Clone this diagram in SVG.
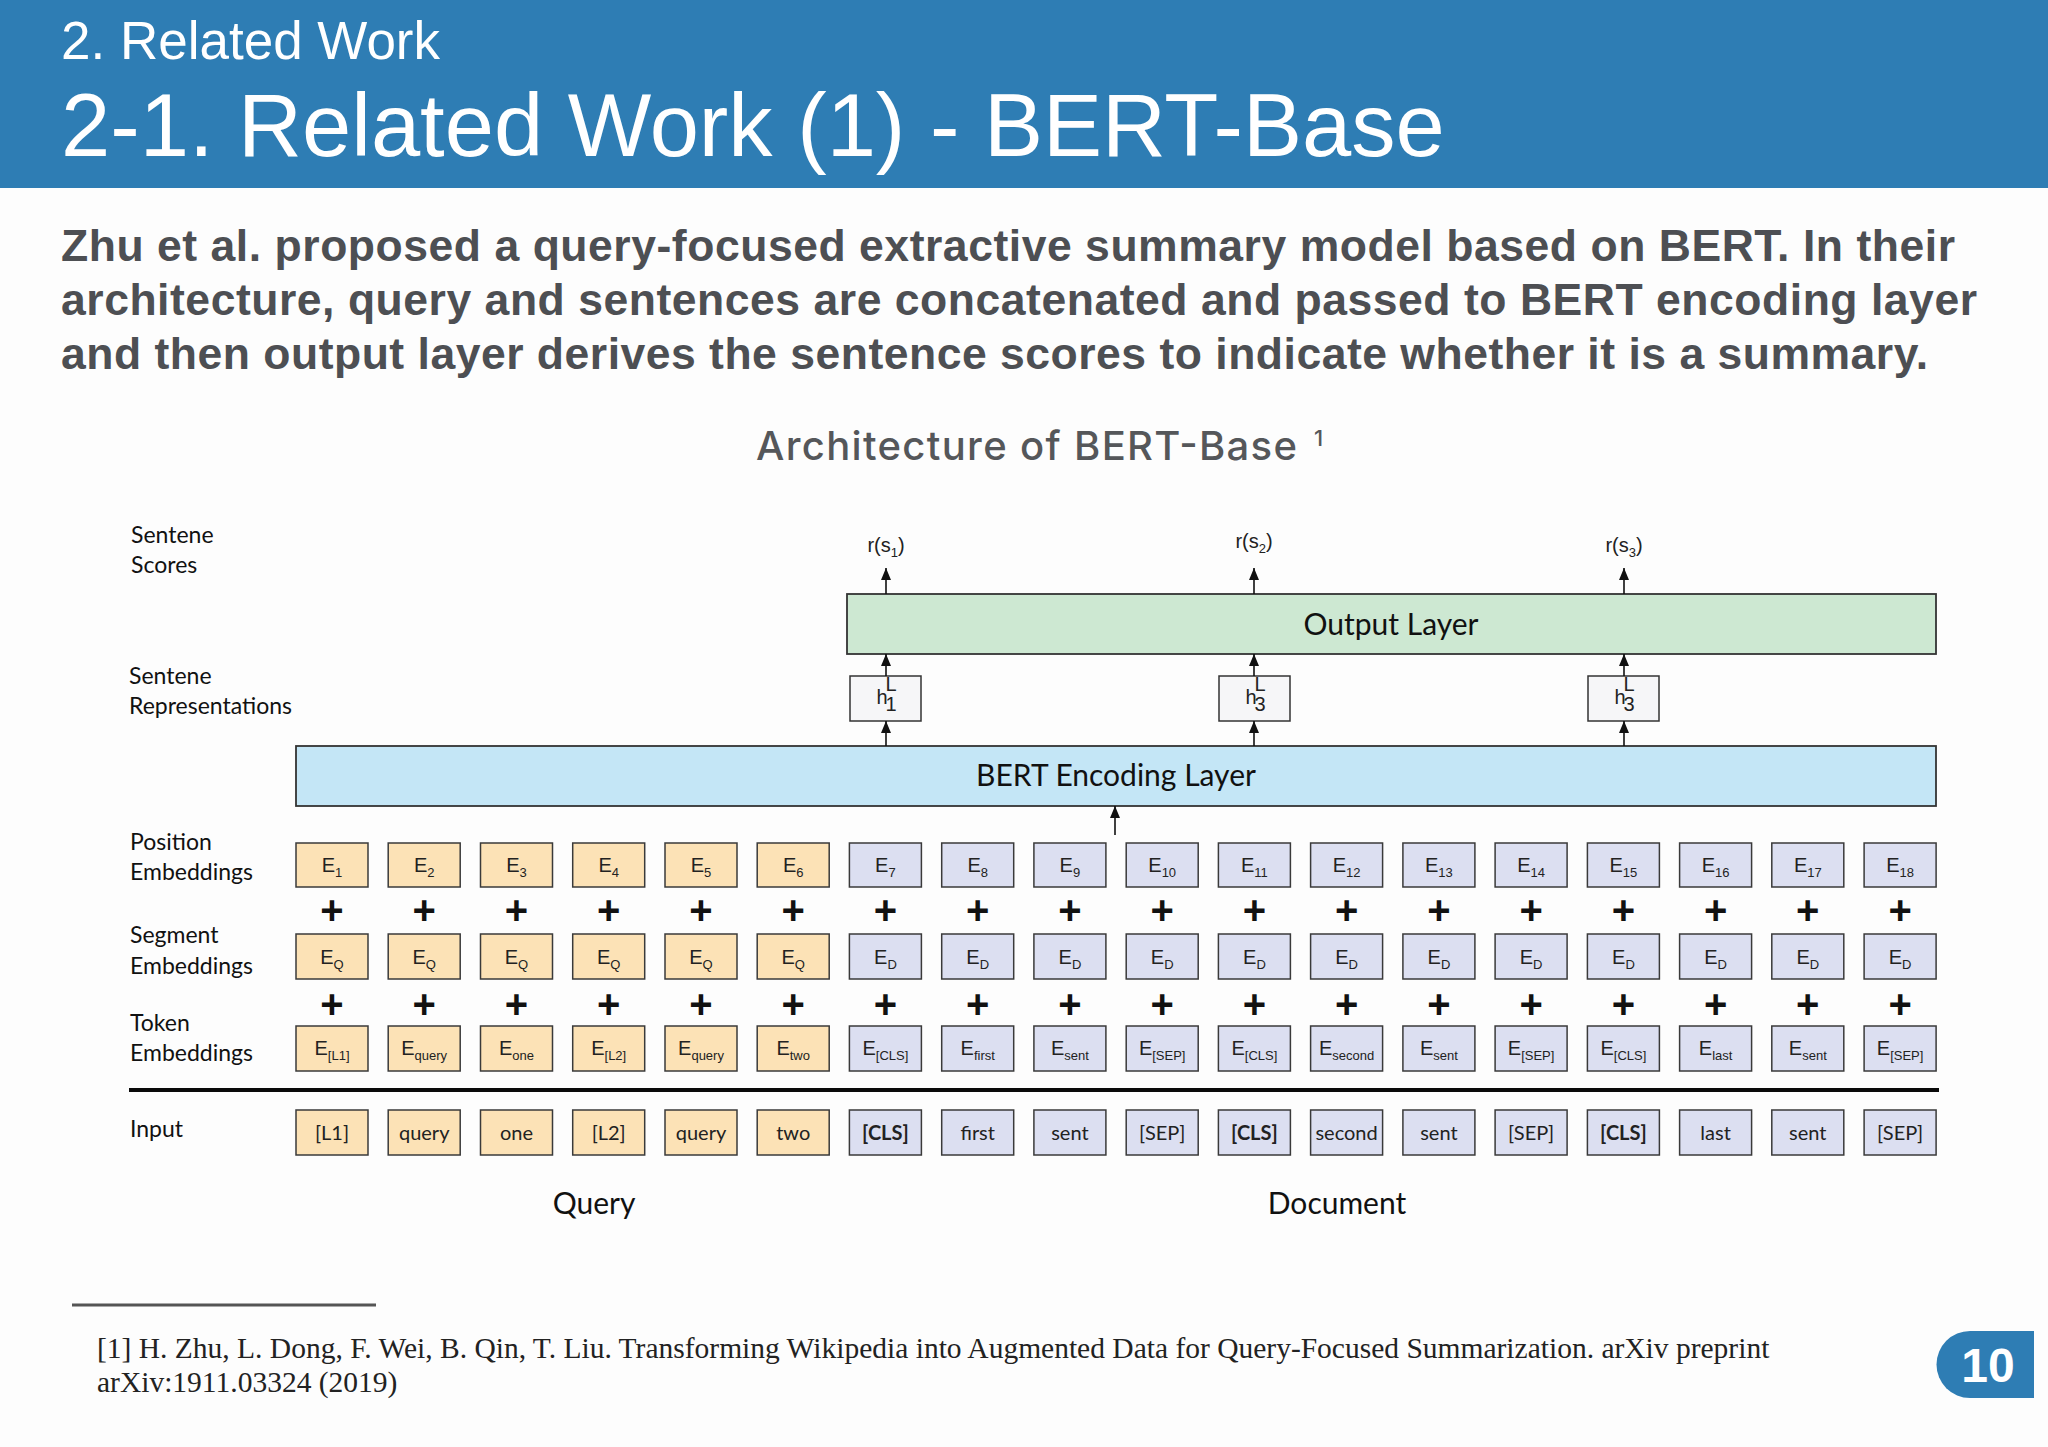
<svg xmlns="http://www.w3.org/2000/svg" width="2048" height="1447" viewBox="0 0 2048 1447">
<style>
.q{fill:#fce2b6;stroke:#3a3a3a;stroke-width:1.5}
.d{fill:#dcdff1;stroke:#3a3a3a;stroke-width:1.5}
.e{font-family:"Liberation Sans",Arial,sans-serif;font-size:20px;fill:#222;text-anchor:middle}
.sub{font-size:13px}
.lab{font-family:Lato,"Open Sans",sans-serif;font-size:23px;fill:#111}
.in{font-family:Lato,"Open Sans",sans-serif;font-size:20px;fill:#222;text-anchor:middle}
.b{font-weight:bold}
.plus{font-family:"Liberation Sans",Arial,sans-serif;font-weight:bold;font-size:40px;fill:#111;text-anchor:middle}
.big{font-family:Lato,"Open Sans",sans-serif;font-size:30px;fill:#111;text-anchor:middle}
.hb{fill:#f6f6f8;stroke:#333;stroke-width:1.5}
.conn{stroke:#111;stroke-width:1.6;fill:none;marker-end:url(#ah)}
.para{font-family:"Liberation Sans",Arial,sans-serif;font-weight:bold;font-size:44.5px;fill:#4d4f53}
</style>
<defs>
<marker id="ah" viewBox="0 0 12 10" refX="12" refY="5" markerWidth="12" markerHeight="10" markerUnits="userSpaceOnUse" orient="auto"><path d="M0,0 L12,5 L0,10 z" fill="#111"/></marker>
</defs>
<rect width="2048" height="1447" fill="#fdfdfd"/>
<g id="header">
<rect x="0" y="0" width="2048" height="188" fill="#2e7db4"/>
<text x="61" y="59" font-family="Liberation Sans,Arial,sans-serif" font-size="53" fill="#fff">2. Related Work</text>
<text x="61" y="156" font-family="Liberation Sans,Arial,sans-serif" font-size="88.5" fill="#fff">2-1. Related Work (1) - BERT-Base</text>
</g>
<g id="paragraph">
<text class="para" x="61" y="261" textLength="1894">Zhu et al. proposed a query-focused extractive summary model based on BERT. In their</text>
<text class="para" x="61" y="315" textLength="1916">architecture, query and sentences are concatenated and passed to BERT encoding layer</text>
<text class="para" x="61" y="369" textLength="1867">and then output layer derives the sentence scores to indicate whether it is a summary.</text>
</g>
<g id="caption">
<text x="756" y="460" font-family="Inter,'Open Sans',sans-serif" font-size="40" font-weight="500" fill="#55575a" textLength="541">Architecture of BERT-Base</text>
<text x="1314" y="446" font-family="Inter,'Open Sans',sans-serif" font-size="22" font-weight="500" fill="#55575a">1</text>
</g>
<g id="row-labels">
<text class="lab" x="131" y="543">Sentene</text>
<text class="lab" x="131" y="573">Scores</text>
<text class="lab" x="129" y="684">Sentene</text>
<text class="lab" x="129" y="714">Representations</text>
<text class="lab" x="130" y="850">Position</text>
<text class="lab" x="130" y="880">Embeddings</text>
<text class="lab" x="130" y="943">Segment</text>
<text class="lab" x="130" y="974">Embeddings</text>
<text class="lab" x="130" y="1031">Token</text>
<text class="lab" x="130" y="1061">Embeddings</text>
<text class="lab" x="130" y="1137">Input</text>
</g>
<g id="scores">
<text class="e" x="886" y="552">r(s<tspan class="sub" dy="5">1</tspan><tspan dy="-5">)</tspan></text>
<text class="e" x="1254" y="548">r(s<tspan class="sub" dy="5">2</tspan><tspan dy="-5">)</tspan></text>
<text class="e" x="1624" y="552">r(s<tspan class="sub" dy="5">3</tspan><tspan dy="-5">)</tspan></text>
</g>
<g id="output-layer">
<rect x="847" y="594" width="1089" height="60" fill="#cde8d2" stroke="#333" stroke-width="1.8"/>
<text class="big" x="1391" y="635">Output Layer</text>
</g>
<g id="h1"><rect class="hb" x="850" y="676" width="71" height="45"/><text class="e" x="882" y="704">h</text><text class="e" x="891" y="691" font-size="9">L</text><text class="e" x="891" y="711" font-size="13">1</text></g>
<g id="h2"><rect class="hb" x="1219" y="676" width="71" height="45"/><text class="e" x="1251" y="704">h</text><text class="e" x="1260" y="691" font-size="9">L</text><text class="e" x="1260" y="711" font-size="13">3</text></g>
<g id="h3"><rect class="hb" x="1588" y="676" width="71" height="45"/><text class="e" x="1620" y="704">h</text><text class="e" x="1629" y="691" font-size="9">L</text><text class="e" x="1629" y="711" font-size="13">3</text></g>
<g id="bert-layer">
<rect x="296" y="746" width="1640" height="60" fill="#c4e6f6" stroke="#333" stroke-width="1.8"/>
<text class="big" x="1116" y="786">BERT Encoding Layer</text>
</g>
<g id="connectors">
<line class="conn" x1="886" y1="594" x2="886" y2="568"/>
<line class="conn" x1="1254" y1="594" x2="1254" y2="568"/>
<line class="conn" x1="1624" y1="594" x2="1624" y2="568"/>
<line class="conn" x1="886" y1="676" x2="886" y2="654"/>
<line class="conn" x1="1254" y1="676" x2="1254" y2="654"/>
<line class="conn" x1="1624" y1="676" x2="1624" y2="654"/>
<line class="conn" x1="886" y1="746" x2="886" y2="721"/>
<line class="conn" x1="1254" y1="746" x2="1254" y2="721"/>
<line class="conn" x1="1624" y1="746" x2="1624" y2="721"/>
<line class="conn" x1="1115" y1="835" x2="1115" y2="806"/>
</g>
<g id="position-embeddings">
<g id="pos-1"><rect class="q" x="296.0" y="843" width="72" height="44"/><text class="e" x="332.0" y="872">E<tspan class="sub" dy="5">1</tspan></text></g>
<g id="pos-2"><rect class="q" x="388.2" y="843" width="72" height="44"/><text class="e" x="424.2" y="872">E<tspan class="sub" dy="5">2</tspan></text></g>
<g id="pos-3"><rect class="q" x="480.5" y="843" width="72" height="44"/><text class="e" x="516.5" y="872">E<tspan class="sub" dy="5">3</tspan></text></g>
<g id="pos-4"><rect class="q" x="572.7" y="843" width="72" height="44"/><text class="e" x="608.7" y="872">E<tspan class="sub" dy="5">4</tspan></text></g>
<g id="pos-5"><rect class="q" x="665.0" y="843" width="72" height="44"/><text class="e" x="701.0" y="872">E<tspan class="sub" dy="5">5</tspan></text></g>
<g id="pos-6"><rect class="q" x="757.2" y="843" width="72" height="44"/><text class="e" x="793.2" y="872">E<tspan class="sub" dy="5">6</tspan></text></g>
<g id="pos-7"><rect class="d" x="849.4" y="843" width="72" height="44"/><text class="e" x="885.4" y="872">E<tspan class="sub" dy="5">7</tspan></text></g>
<g id="pos-8"><rect class="d" x="941.7" y="843" width="72" height="44"/><text class="e" x="977.7" y="872">E<tspan class="sub" dy="5">8</tspan></text></g>
<g id="pos-9"><rect class="d" x="1033.9" y="843" width="72" height="44"/><text class="e" x="1069.9" y="872">E<tspan class="sub" dy="5">9</tspan></text></g>
<g id="pos-10"><rect class="d" x="1126.2" y="843" width="72" height="44"/><text class="e" x="1162.2" y="872">E<tspan class="sub" dy="5">10</tspan></text></g>
<g id="pos-11"><rect class="d" x="1218.4" y="843" width="72" height="44"/><text class="e" x="1254.4" y="872">E<tspan class="sub" dy="5">11</tspan></text></g>
<g id="pos-12"><rect class="d" x="1310.6" y="843" width="72" height="44"/><text class="e" x="1346.6" y="872">E<tspan class="sub" dy="5">12</tspan></text></g>
<g id="pos-13"><rect class="d" x="1402.9" y="843" width="72" height="44"/><text class="e" x="1438.9" y="872">E<tspan class="sub" dy="5">13</tspan></text></g>
<g id="pos-14"><rect class="d" x="1495.1" y="843" width="72" height="44"/><text class="e" x="1531.1" y="872">E<tspan class="sub" dy="5">14</tspan></text></g>
<g id="pos-15"><rect class="d" x="1587.4" y="843" width="72" height="44"/><text class="e" x="1623.4" y="872">E<tspan class="sub" dy="5">15</tspan></text></g>
<g id="pos-16"><rect class="d" x="1679.6" y="843" width="72" height="44"/><text class="e" x="1715.6" y="872">E<tspan class="sub" dy="5">16</tspan></text></g>
<g id="pos-17"><rect class="d" x="1771.8" y="843" width="72" height="44"/><text class="e" x="1807.8" y="872">E<tspan class="sub" dy="5">17</tspan></text></g>
<g id="pos-18"><rect class="d" x="1864.1" y="843" width="72" height="44"/><text class="e" x="1900.1" y="872">E<tspan class="sub" dy="5">18</tspan></text></g>
</g>
<g id="segment-embeddings">
<g id="seg-1"><rect class="q" x="296.0" y="934" width="72" height="45"/><text class="e" x="332.0" y="964">E<tspan class="sub" dy="5">Q</tspan></text></g>
<g id="seg-2"><rect class="q" x="388.2" y="934" width="72" height="45"/><text class="e" x="424.2" y="964">E<tspan class="sub" dy="5">Q</tspan></text></g>
<g id="seg-3"><rect class="q" x="480.5" y="934" width="72" height="45"/><text class="e" x="516.5" y="964">E<tspan class="sub" dy="5">Q</tspan></text></g>
<g id="seg-4"><rect class="q" x="572.7" y="934" width="72" height="45"/><text class="e" x="608.7" y="964">E<tspan class="sub" dy="5">Q</tspan></text></g>
<g id="seg-5"><rect class="q" x="665.0" y="934" width="72" height="45"/><text class="e" x="701.0" y="964">E<tspan class="sub" dy="5">Q</tspan></text></g>
<g id="seg-6"><rect class="q" x="757.2" y="934" width="72" height="45"/><text class="e" x="793.2" y="964">E<tspan class="sub" dy="5">Q</tspan></text></g>
<g id="seg-7"><rect class="d" x="849.4" y="934" width="72" height="45"/><text class="e" x="885.4" y="964">E<tspan class="sub" dy="5">D</tspan></text></g>
<g id="seg-8"><rect class="d" x="941.7" y="934" width="72" height="45"/><text class="e" x="977.7" y="964">E<tspan class="sub" dy="5">D</tspan></text></g>
<g id="seg-9"><rect class="d" x="1033.9" y="934" width="72" height="45"/><text class="e" x="1069.9" y="964">E<tspan class="sub" dy="5">D</tspan></text></g>
<g id="seg-10"><rect class="d" x="1126.2" y="934" width="72" height="45"/><text class="e" x="1162.2" y="964">E<tspan class="sub" dy="5">D</tspan></text></g>
<g id="seg-11"><rect class="d" x="1218.4" y="934" width="72" height="45"/><text class="e" x="1254.4" y="964">E<tspan class="sub" dy="5">D</tspan></text></g>
<g id="seg-12"><rect class="d" x="1310.6" y="934" width="72" height="45"/><text class="e" x="1346.6" y="964">E<tspan class="sub" dy="5">D</tspan></text></g>
<g id="seg-13"><rect class="d" x="1402.9" y="934" width="72" height="45"/><text class="e" x="1438.9" y="964">E<tspan class="sub" dy="5">D</tspan></text></g>
<g id="seg-14"><rect class="d" x="1495.1" y="934" width="72" height="45"/><text class="e" x="1531.1" y="964">E<tspan class="sub" dy="5">D</tspan></text></g>
<g id="seg-15"><rect class="d" x="1587.4" y="934" width="72" height="45"/><text class="e" x="1623.4" y="964">E<tspan class="sub" dy="5">D</tspan></text></g>
<g id="seg-16"><rect class="d" x="1679.6" y="934" width="72" height="45"/><text class="e" x="1715.6" y="964">E<tspan class="sub" dy="5">D</tspan></text></g>
<g id="seg-17"><rect class="d" x="1771.8" y="934" width="72" height="45"/><text class="e" x="1807.8" y="964">E<tspan class="sub" dy="5">D</tspan></text></g>
<g id="seg-18"><rect class="d" x="1864.1" y="934" width="72" height="45"/><text class="e" x="1900.1" y="964">E<tspan class="sub" dy="5">D</tspan></text></g>
</g>
<g id="token-embeddings">
<g id="tok-1"><rect class="q" x="296.0" y="1026" width="72" height="45"/><text class="e" x="332.0" y="1055">E<tspan class="sub" dy="5">[L1]</tspan></text></g>
<g id="tok-2"><rect class="q" x="388.2" y="1026" width="72" height="45"/><text class="e" x="424.2" y="1055">E<tspan class="sub" dy="5">query</tspan></text></g>
<g id="tok-3"><rect class="q" x="480.5" y="1026" width="72" height="45"/><text class="e" x="516.5" y="1055">E<tspan class="sub" dy="5">one</tspan></text></g>
<g id="tok-4"><rect class="q" x="572.7" y="1026" width="72" height="45"/><text class="e" x="608.7" y="1055">E<tspan class="sub" dy="5">[L2]</tspan></text></g>
<g id="tok-5"><rect class="q" x="665.0" y="1026" width="72" height="45"/><text class="e" x="701.0" y="1055">E<tspan class="sub" dy="5">query</tspan></text></g>
<g id="tok-6"><rect class="q" x="757.2" y="1026" width="72" height="45"/><text class="e" x="793.2" y="1055">E<tspan class="sub" dy="5">two</tspan></text></g>
<g id="tok-7"><rect class="d" x="849.4" y="1026" width="72" height="45"/><text class="e" x="885.4" y="1055">E<tspan class="sub" dy="5">[CLS]</tspan></text></g>
<g id="tok-8"><rect class="d" x="941.7" y="1026" width="72" height="45"/><text class="e" x="977.7" y="1055">E<tspan class="sub" dy="5">first</tspan></text></g>
<g id="tok-9"><rect class="d" x="1033.9" y="1026" width="72" height="45"/><text class="e" x="1069.9" y="1055">E<tspan class="sub" dy="5">sent</tspan></text></g>
<g id="tok-10"><rect class="d" x="1126.2" y="1026" width="72" height="45"/><text class="e" x="1162.2" y="1055">E<tspan class="sub" dy="5">[SEP]</tspan></text></g>
<g id="tok-11"><rect class="d" x="1218.4" y="1026" width="72" height="45"/><text class="e" x="1254.4" y="1055">E<tspan class="sub" dy="5">[CLS]</tspan></text></g>
<g id="tok-12"><rect class="d" x="1310.6" y="1026" width="72" height="45"/><text class="e" x="1346.6" y="1055">E<tspan class="sub" dy="5">second</tspan></text></g>
<g id="tok-13"><rect class="d" x="1402.9" y="1026" width="72" height="45"/><text class="e" x="1438.9" y="1055">E<tspan class="sub" dy="5">sent</tspan></text></g>
<g id="tok-14"><rect class="d" x="1495.1" y="1026" width="72" height="45"/><text class="e" x="1531.1" y="1055">E<tspan class="sub" dy="5">[SEP]</tspan></text></g>
<g id="tok-15"><rect class="d" x="1587.4" y="1026" width="72" height="45"/><text class="e" x="1623.4" y="1055">E<tspan class="sub" dy="5">[CLS]</tspan></text></g>
<g id="tok-16"><rect class="d" x="1679.6" y="1026" width="72" height="45"/><text class="e" x="1715.6" y="1055">E<tspan class="sub" dy="5">last</tspan></text></g>
<g id="tok-17"><rect class="d" x="1771.8" y="1026" width="72" height="45"/><text class="e" x="1807.8" y="1055">E<tspan class="sub" dy="5">sent</tspan></text></g>
<g id="tok-18"><rect class="d" x="1864.1" y="1026" width="72" height="45"/><text class="e" x="1900.1" y="1055">E<tspan class="sub" dy="5">[SEP]</tspan></text></g>
</g>
<g id="plus-signs">
<text class="plus" x="332.0" y="924">+</text><text class="plus" x="424.2" y="924">+</text><text class="plus" x="516.5" y="924">+</text><text class="plus" x="608.7" y="924">+</text><text class="plus" x="701.0" y="924">+</text><text class="plus" x="793.2" y="924">+</text><text class="plus" x="885.4" y="924">+</text><text class="plus" x="977.7" y="924">+</text><text class="plus" x="1069.9" y="924">+</text><text class="plus" x="1162.2" y="924">+</text><text class="plus" x="1254.4" y="924">+</text><text class="plus" x="1346.6" y="924">+</text><text class="plus" x="1438.9" y="924">+</text><text class="plus" x="1531.1" y="924">+</text><text class="plus" x="1623.4" y="924">+</text><text class="plus" x="1715.6" y="924">+</text><text class="plus" x="1807.8" y="924">+</text><text class="plus" x="1900.1" y="924">+</text>
<text class="plus" x="332.0" y="1018">+</text><text class="plus" x="424.2" y="1018">+</text><text class="plus" x="516.5" y="1018">+</text><text class="plus" x="608.7" y="1018">+</text><text class="plus" x="701.0" y="1018">+</text><text class="plus" x="793.2" y="1018">+</text><text class="plus" x="885.4" y="1018">+</text><text class="plus" x="977.7" y="1018">+</text><text class="plus" x="1069.9" y="1018">+</text><text class="plus" x="1162.2" y="1018">+</text><text class="plus" x="1254.4" y="1018">+</text><text class="plus" x="1346.6" y="1018">+</text><text class="plus" x="1438.9" y="1018">+</text><text class="plus" x="1531.1" y="1018">+</text><text class="plus" x="1623.4" y="1018">+</text><text class="plus" x="1715.6" y="1018">+</text><text class="plus" x="1807.8" y="1018">+</text><text class="plus" x="1900.1" y="1018">+</text>
</g>
<line id="divider" x1="129" y1="1090" x2="1939" y2="1090" stroke="#0a0a0a" stroke-width="4"/>
<g id="input">
<g id="in-1"><rect class="q" x="296.0" y="1110" width="72" height="45"/><text class="in" x="332.0" y="1140">[L1]</text></g>
<g id="in-2"><rect class="q" x="388.2" y="1110" width="72" height="45"/><text class="in" x="424.2" y="1140">query</text></g>
<g id="in-3"><rect class="q" x="480.5" y="1110" width="72" height="45"/><text class="in" x="516.5" y="1140">one</text></g>
<g id="in-4"><rect class="q" x="572.7" y="1110" width="72" height="45"/><text class="in" x="608.7" y="1140">[L2]</text></g>
<g id="in-5"><rect class="q" x="665.0" y="1110" width="72" height="45"/><text class="in" x="701.0" y="1140">query</text></g>
<g id="in-6"><rect class="q" x="757.2" y="1110" width="72" height="45"/><text class="in" x="793.2" y="1140">two</text></g>
<g id="in-7"><rect class="d" x="849.4" y="1110" width="72" height="45"/><text class="in b" x="885.4" y="1140">[CLS]</text></g>
<g id="in-8"><rect class="d" x="941.7" y="1110" width="72" height="45"/><text class="in" x="977.7" y="1140">first</text></g>
<g id="in-9"><rect class="d" x="1033.9" y="1110" width="72" height="45"/><text class="in" x="1069.9" y="1140">sent</text></g>
<g id="in-10"><rect class="d" x="1126.2" y="1110" width="72" height="45"/><text class="in" x="1162.2" y="1140">[SEP]</text></g>
<g id="in-11"><rect class="d" x="1218.4" y="1110" width="72" height="45"/><text class="in b" x="1254.4" y="1140">[CLS]</text></g>
<g id="in-12"><rect class="d" x="1310.6" y="1110" width="72" height="45"/><text class="in" x="1346.6" y="1140">second</text></g>
<g id="in-13"><rect class="d" x="1402.9" y="1110" width="72" height="45"/><text class="in" x="1438.9" y="1140">sent</text></g>
<g id="in-14"><rect class="d" x="1495.1" y="1110" width="72" height="45"/><text class="in" x="1531.1" y="1140">[SEP]</text></g>
<g id="in-15"><rect class="d" x="1587.4" y="1110" width="72" height="45"/><text class="in b" x="1623.4" y="1140">[CLS]</text></g>
<g id="in-16"><rect class="d" x="1679.6" y="1110" width="72" height="45"/><text class="in" x="1715.6" y="1140">last</text></g>
<g id="in-17"><rect class="d" x="1771.8" y="1110" width="72" height="45"/><text class="in" x="1807.8" y="1140">sent</text></g>
<g id="in-18"><rect class="d" x="1864.1" y="1110" width="72" height="45"/><text class="in" x="1900.1" y="1140">[SEP]</text></g>
</g>
<g id="group-labels">
<text class="big" x="594" y="1214">Query</text>
<text class="big" x="1337" y="1214" font-size="31">Document</text>
</g>
<g id="footnote">
<line x1="72" y1="1305" x2="376" y2="1305" stroke="#555" stroke-width="3"/>
<text x="97" y="1358" font-family="Liberation Serif,'Times New Roman',serif" font-size="29.5" fill="#222">[1] H. Zhu, L. Dong, F. Wei, B. Qin, T. Liu. Transforming Wikipedia into Augmented Data for Query-Focused Summarization. arXiv preprint</text>
<text x="97" y="1392" font-family="Liberation Serif,'Times New Roman',serif" font-size="29.5" fill="#222">arXiv:1911.03324 (2019)</text>
</g>
<g id="page-number">
<path d="M2034,1331 H1970 A33.5,33.5 0 0 0 1970,1398 H2034 Z" fill="#2e7db4"/>
<text x="1988" y="1382" font-family="Liberation Sans,Arial,sans-serif" font-weight="bold" font-size="48" fill="#fff" text-anchor="middle">10</text>
</g>
</svg>
